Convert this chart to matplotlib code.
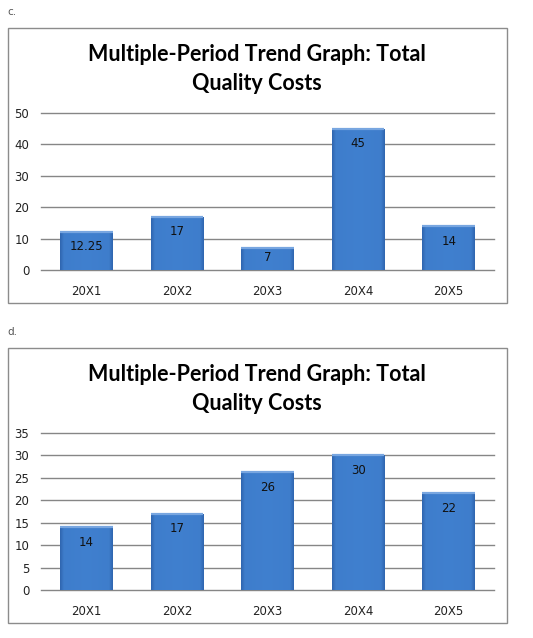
import numpy as np
import matplotlib
matplotlib.use('Agg')
import matplotlib.pyplot as plt
from matplotlib.patches import Rectangle

periods = ['20X1', '20X2', '20X3', '20X4', '20X5']

costs_c = [12.25, 17, 7, 45, 14]
labels_c = ['12.25', '17', '7', '45', '14']
yticks_c = [0, 10, 20, 30, 40, 50]

costs_d = [14, 17, 26.25, 30, 21.6]
labels_d = ['14', '17', '26', '30', '22']
yticks_d = [0, 5, 10, 15, 20, 25, 30, 35]

TITLE = 'Multiple-Period Trend Graph: Total\nQuality Costs'
W, H = 533, 638


def px(x, y):
    # pixel position (from top-left) -> figure fraction
    return x / W, 1 - y / H


def gradient_bars(ax, bars):
    # horizontal shading like the Excel bevelled bars
    t = np.linspace(0, 1, 80)
    edge = np.clip(np.minimum(t, 1 - t) / 0.07, 0, 1)
    shade = (0.45 + 0.55 * edge) * (1 - 0.12 * np.abs(t - 0.5))
    dark = np.array([0.14, 0.33, 0.60])
    light = np.array([0.25, 0.50, 0.81])
    img = dark[None, :] + (light - dark)[None, :] * shade[:, None]
    img = img[None, :, :]
    for b in bars:
        x0, y0 = b.get_x(), b.get_y()
        w, h = b.get_width(), b.get_height()
        im = ax.imshow(img, extent=(x0, x0 + w, y0, y0 + h), aspect='auto',
                       interpolation='bilinear', zorder=3)
        im.set_clip_path(b)
        # light top edge
        ax.plot([x0, x0 + w], [y0 + h, y0 + h], color='#78a6e0', lw=1.6,
                zorder=4, solid_capstyle='butt')


def panel(fig, top, tag, values, labels, yticks):
    fig.text(*px(7, top + 12), tag, fontsize=7.5, color='#555555',
             family='DejaVu Sans', va='center')
    # outer frame
    fx, fy = px(8, top + 28)
    fx2, fy2 = px(507, top + 303)
    fig.patches.append(Rectangle((fx, fy2), fx2 - fx, fy - fy2,
                                 transform=fig.transFigure, fill=False,
                                 edgecolor='#8c8c8c', lw=1.0))
    fig.text(*px(257, top + 69), TITLE, ha='center', va='center',
             fontsize=15.5, fontweight='bold', family='Lato',
             linespacing=1.5, color='black')

    l, t_ = px(41, top + 113)
    r, b_ = px(494, top + 270)
    ax = fig.add_axes([l, b_, r - l, t_ - b_])
    x = np.arange(len(periods))
    bars = ax.bar(x, values, width=0.58, color='#3a73c0', zorder=2)
    ax.set_xlim(-0.5, len(periods) - 0.5)
    ax.set_ylim(0, yticks[-1])
    ax.set_yticks(yticks)
    ax.set_xticks(x)
    ax.set_xticklabels(periods)
    ax.tick_params(length=0, labelsize=8.5, colors='#222222')
    ax.tick_params(axis='y', pad=8.5)
    ax.tick_params(axis='x', pad=11)
    for s in ax.spines.values():
        s.set_visible(False)
    ax.grid(axis='y', color='#868686', lw=1.0, zorder=1)
    for gl in ax.get_ygridlines():
        gl.set_clip_on(False)
    ax.set_axisbelow(True)
    ax.set_facecolor('none')
    gradient_bars(ax, bars)

    # labels inside the bar ends
    unit = (yticks[-1] - yticks[0]) / 157.0
    for xi, v, lab in zip(x, values, labels):
        yy = max(v - 15 * unit, v / 2 + 1.5 * unit)
        ax.text(xi, yy, lab, ha='center', va='center', fontsize=8.5,
                color='#111111', zorder=5)
    return ax


fig = plt.figure(figsize=(W / 100, H / 100), dpi=100)
fig.patch.set_facecolor('white')

panel(fig, 0, 'c.', costs_c, labels_c, yticks_c)
panel(fig, 320, 'd.', costs_d, labels_d, yticks_d)

fig.savefig('out.png', dpi=100)
